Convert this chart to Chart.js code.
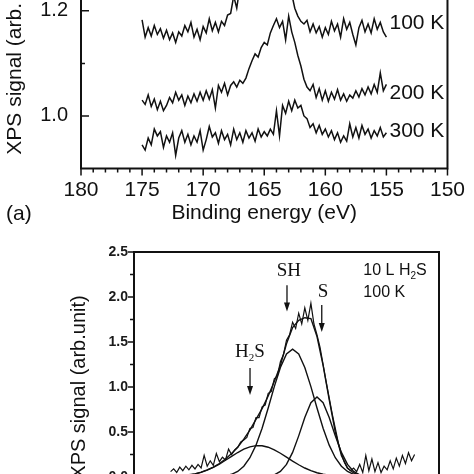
<!DOCTYPE html>
<html><head><meta charset="utf-8">
<script src="https://cdn.jsdelivr.net/npm/chart.js@4.4.1/dist/chart.umd.min.js"></script>
<style>
html,body{margin:0;padding:0;background:#fff;}
body{width:474px;height:474px;overflow:hidden;position:relative;}
#c1{position:absolute;left:0;top:-80px;}
#c2{position:absolute;left:0;top:240px;}
</style></head><body>
<canvas id="c1" width="474" height="320"></canvas>
<canvas id="c2" width="474" height="320"></canvas>
<script>
// ---------- Panel (a): temperature series ----------
const energy = [175,174.75,174.5,174.25,174,173.75,173.5,173.25,173,172.75,172.5,172.25,172,171.75,171.5,171.25,171,170.75,170.5,170.25,170,169.75,169.5,169.25,169,168.75,168.5,168.25,168,167.75,167.5,167.25,167,166.75,166.5,166.25,166,165.75,165.5,165.25,165,164.75,164.5,164.25,164,163.75,163.5,163.25,163,162.75,162.5,162.25,162,161.75,161.5,161.25,161,160.75,160.5,160.25,160,159.75,159.5,159.25,159,158.75,158.5,158.25,158,157.75,157.5,157.25,157,156.75,156.5,156.25,156,155.75,155.5,155.25,155];
const signal100K = [1.183,1.150,1.168,1.152,1.172,1.155,1.166,1.148,1.163,1.145,
1.158,1.140,1.160,1.152,1.172,1.160,1.178,1.150,1.165,1.145,
1.170,1.158,1.185,1.162,1.178,1.160,1.180,1.172,1.192,1.195,
1.228,1.205,1.245,1.255,1.270,1.280,1.290,1.300,1.310,1.305,
1.315,1.310,1.320,1.315,1.318,1.310,1.300,1.285,1.260,1.232,
1.205,1.190,1.180,1.175,1.182,1.160,1.175,1.158,1.170,1.150,
1.168,1.155,1.180,1.162,1.175,1.150,1.185,1.165,1.178,1.155,
1.135,1.168,1.182,1.160,1.175,1.158,1.185,1.165,1.178,1.160,
1.150];
const signal200K = [1.030,1.022,1.040,1.018,1.032,1.012,1.028,1.010,1.020,1.035,
1.025,1.045,1.030,1.040,1.020,1.038,1.025,1.042,1.028,1.045,
1.030,1.048,1.032,1.050,1.015,1.058,1.045,1.062,1.040,1.058,
1.065,1.055,1.068,1.062,1.072,1.090,1.105,1.118,1.112,1.130,
1.140,1.135,1.158,1.172,1.185,1.168,1.180,1.145,1.190,1.160,
1.140,1.115,1.095,1.070,1.055,1.048,1.060,1.035,1.052,1.030,
1.048,1.028,1.045,1.032,1.050,1.030,1.042,1.028,1.040,1.034,
1.048,1.036,1.052,1.040,1.055,1.042,1.060,1.045,1.082,1.048,
1.060];
const signal300K = [0.945,0.935,0.958,0.945,0.975,0.962,0.970,0.940,0.962,0.950,
0.968,0.925,0.958,0.972,0.950,0.965,0.945,0.962,0.950,0.972,
0.935,0.955,0.980,0.960,0.968,0.948,0.972,0.955,0.965,0.945,
0.975,0.955,0.968,0.950,0.972,0.958,0.968,0.952,0.975,0.960,
0.970,0.962,0.975,0.965,1.010,0.962,1.020,1.005,1.028,1.010,
1.030,1.015,1.020,1.000,0.995,0.978,0.985,0.968,0.982,0.965,
0.975,0.960,0.972,0.955,0.968,0.950,0.962,0.952,0.985,0.960,
0.978,0.958,0.982,0.965,0.975,0.958,0.972,0.962,0.978,0.960,
0.968];
const seriesLabels = ['100 K','200 K','300 K'];
const topXTicks = [180,175,170,165,160,155,150];
const topXMinor = [179,178,177,176,174,173,172,171,169,168,167,166,164,163,162,161,159,158,157,156,154,153,152,151];
const topYTicks = [1.0,1.2];
const topYMinor = [1.1,1.3];

// ---------- Panel (b): 10 L H2S, 100 K, fitted ----------
const rawSignal = [0.06,0.09,0.05,0.11,0.07,0.12,0.08,0.13,0.09,0.14,
0.10,0.24,0.12,0.18,0.13,0.26,0.17,0.22,0.19,0.31,
0.25,0.30,0.33,0.39,0.41,0.44,0.54,0.55,0.66,0.66,
0.78,0.80,0.93,0.95,1.09,1.12,1.28,1.36,1.52,1.58,
1.72,1.65,1.82,1.70,1.88,1.74,1.93,1.70,1.58,1.44,
1.25,1.06,0.88,0.70,0.54,0.38,0.26,0.16,0.10,0.07,
0.10,0.06,0.14,0.05,0.24,0.07,0.20,0.06,0.16,0.05,
0.12,0.08,0.18,0.09,0.21,0.12,0.24,0.15,0.27,0.18,
0.25];
const fitEnergy = [175,174.5,174,173.5,173,172.5,172,171.5,171,170.5,170,169.5,169,168.5,168,167.5,167,166.5,166,165.5,165,164.5,164,163.5,163,162.5,162,161.5,161,160.5,160,159.5,159,158.5,158,157.5,157,156.5,156,155.5,155];
const fitEnvelope = [0.01,0.01,0.015,0.025,0.035,0.055,0.08,0.11,0.15,0.20,0.26,0.33,0.42,0.52,0.64,0.76,0.90,1.06,1.24,1.48,1.66,1.74,1.77,1.76,1.56,1.24,0.86,0.50,0.24,0.10,0.045,0.02,0.01,0.005,0,0,0,0,0,0,0];
const compH2S = [0.004,0.007,0.012,0.021,0.033,0.051,0.076,0.107,0.144,0.186,0.230,0.272,0.309,0.335,0.349,0.347,0.331,0.302,0.264,0.221,0.177,0.136,0.100,0.070,0.047,0.031,0.019,0.011,0.006,0.003,0.002,0.001,0,0,0,0,0,0,0,0,0];
const compSH = [0,0,0,0,0,0,0,0.002,0.005,0.013,0.030,0.062,0.120,0.214,0.354,0.541,0.766,1.004,1.217,1.366,1.42,1.366,1.217,1.004,0.766,0.541,0.354,0.214,0.120,0.062,0.030,0.013,0.005,0.002,0,0,0,0,0,0,0];
const compS = [0,0,0,0,0,0,0,0,0,0,0,0,0,0,0,0.002,0.008,0.024,0.062,0.140,0.273,0.457,0.662,0.826,0.89,0.826,0.662,0.457,0.273,0.140,0.062,0.024,0.008,0.002,0,0,0,0,0,0,0];
const bottomYTicks = [-0.5,0.0,0.5,1.0,1.5,2.0,2.5];
const bottomYMinor = [-0.25,0.25,0.75,1.25,1.75,2.25];

// ---------- text placement (not data) ----------
const topLabelPos = {x:154.75, y:[1.177,1.043,0.971]};
const peakNotes = [
  {parts:[['SH',0]], x:165.3, y:2.29, align:'center'},
  {parts:[['S',0]], x:162.51, y:2.05, align:'center'},
  {parts:[['H',0],['2',1],['S',0]], x:169.72, y:1.39, align:'left'}
];
const peakArrows = [{x:165.46, from:2.13, to:1.84},{x:162.61, from:1.91, to:1.61},{x:168.49, from:1.21, to:0.91}];

const SANS = '"Liberation Sans", Arial, sans-serif';
const SERIF = '"Liberation Serif", "Times New Roman", serif';
const INK = '#111';
const pts = (xs, ys) => xs.map((x,i)=>({x:x, y:ys[i]}));

function drawRich(ctx, parts, x, y, size, family, align){
  let w = 0;
  parts.forEach(([t,sub])=>{ ctx.font = (sub? Math.round(size*0.6): size)+'px '+family; w += ctx.measureText(t).width; });
  let cx = align==='center' ? x - w/2 : x;
  ctx.textAlign = 'left'; ctx.textBaseline = 'middle';
  parts.forEach(([t,sub])=>{
    ctx.font = (sub? Math.round(size*0.6): size)+'px '+family;
    ctx.fillText(t, cx, sub ? y + size*0.32 : y);
    cx += ctx.measureText(t).width;
  });
}

const topDeco = {
  id:'topDeco',
  afterDraw(chart){
    const ctx = chart.ctx, a = chart.chartArea, x = chart.scales.x, y = chart.scales.y;
    ctx.save();
    ctx.strokeStyle = INK; ctx.lineWidth = 2;
    ctx.strokeRect(a.left, a.top, a.right-a.left, a.bottom-a.top);
    ctx.lineWidth = 1.5;
    ctx.beginPath();
    topXTicks.forEach(v=>{const p=x.getPixelForValue(v); ctx.moveTo(p,a.bottom); ctx.lineTo(p,a.bottom+7);});
    topXMinor.forEach(v=>{const p=x.getPixelForValue(v); ctx.moveTo(p,a.bottom); ctx.lineTo(p,a.bottom+4);});
    topYTicks.forEach(v=>{const p=y.getPixelForValue(v); ctx.moveTo(a.left,p); ctx.lineTo(a.left+8,p);});
    topYMinor.forEach(v=>{const p=y.getPixelForValue(v); ctx.moveTo(a.left,p); ctx.lineTo(a.left+4,p);});
    ctx.stroke();
    ctx.fillStyle = INK; ctx.font = '20px '+SANS; ctx.textBaseline='middle'; ctx.textAlign='right';
    topYTicks.forEach(v=> ctx.fillText(v.toFixed(1), a.left-13, y.getPixelForValue(v)));
    ctx.font = '21px '+SANS; ctx.textAlign='left';
    seriesLabels.forEach((t,i)=> ctx.fillText(t, x.getPixelForValue(topLabelPos.x), y.getPixelForValue(topLabelPos.y[i])));
    ctx.fillText('(a)', 6, 294);
    ctx.restore();
  }
};

const bottomDeco = {
  id:'bottomDeco',
  afterDraw(chart){
    const ctx = chart.ctx, a = chart.chartArea, x = chart.scales.x, y = chart.scales.y;
    ctx.save();
    ctx.strokeStyle = INK; ctx.lineWidth = 2;
    ctx.strokeRect(a.left, a.top, a.right-a.left, a.bottom-a.top);
    ctx.lineWidth = 1.5;
    ctx.beginPath();
    bottomYTicks.forEach(v=>{const p=y.getPixelForValue(v); ctx.moveTo(a.left,p); ctx.lineTo(a.left-6,p);});
    bottomYMinor.forEach(v=>{const p=y.getPixelForValue(v); ctx.moveTo(a.left,p); ctx.lineTo(a.left-4,p);});
    ctx.stroke();
    ctx.fillStyle = '#1a1a1a'; ctx.font = 'bold 14px '+SANS; ctx.textAlign='right'; ctx.textBaseline='middle';
    bottomYTicks.forEach(v=> ctx.fillText(v.toFixed(1), a.left-6, y.getPixelForValue(v)));
    ctx.fillStyle = INK;
    peakNotes.forEach(n=> drawRich(ctx, n.parts, x.getPixelForValue(n.x), y.getPixelForValue(n.y), 19, SERIF, n.align));
    ctx.lineWidth = 1.3;
    peakArrows.forEach(ar=>{
      const px = x.getPixelForValue(ar.x), p1 = y.getPixelForValue(ar.from), p2 = y.getPixelForValue(ar.to);
      ctx.beginPath(); ctx.moveTo(px,p1); ctx.lineTo(px,p2-6); ctx.stroke();
      ctx.beginPath(); ctx.moveTo(px-3,p2-9); ctx.lineTo(px+3,p2-9); ctx.lineTo(px,p2); ctx.closePath(); ctx.fill();
    });
    drawRich(ctx, [['10 L H',0],['2',1],['S',0]], x.getPixelForValue(159.2), y.getPixelForValue(2.29), 16, SANS, 'left');
    drawRich(ctx, [['100 K',0]], x.getPixelForValue(159.2), y.getPixelForValue(2.05), 16, SANS, 'left');
    ctx.restore();
  }
};

const lineDS = (data, w) => ({data:data, borderColor:INK, borderWidth:w, pointRadius:0, fill:false, tension:0});

new Chart(document.getElementById('c1'), {
  type:'line',
  data:{datasets:[lineDS(pts(energy,signal100K),1.5), lineDS(pts(energy,signal200K),1.5), lineDS(pts(energy,signal300K),1.5)]},
  options:{
    responsive:false, animation:false, devicePixelRatio:1,
    layout:{padding:{top:12, right:22, left:0, bottom:0}},
    plugins:{legend:{display:false}, tooltip:{enabled:false}},
    scales:{
      x:{type:'linear', reverse:true, min:150, max:180,
        afterBuildTicks: s=>{ s.ticks = topXTicks.map(v=>({value:v})); },
        afterFit: s=>{ s.height = 71.5; },
        grid:{display:false, drawTicks:false}, border:{display:false},
        ticks:{font:{family:SANS, size:21}, color:INK, padding:9, maxRotation:0, autoSkip:false, callback:v=>String(v)},
        title:{display:true, text:'Binding energy (eV)', font:{family:SANS, size:21}, color:INK, padding:{top:0, bottom:14}}
      },
      y:{min:0.9, max:1.35,
        afterFit: s=>{ s.width = 81; },
        grid:{display:false, drawTicks:false}, border:{display:false},
        ticks:{display:false},
        title:{display:true, text:'XPS signal (arb. units)', font:{family:SANS, size:21}, color:INK, padding:{top:3, bottom:0}}
      }
    }
  },
  plugins:[topDeco]
});

new Chart(document.getElementById('c2'), {
  type:'line',
  data:{datasets:[
    lineDS(pts(energy,rawSignal),1.2),
    lineDS(pts(fitEnergy,fitEnvelope),1.4),
    lineDS(pts(fitEnergy,compH2S),1.4),
    lineDS(pts(fitEnergy,compSH),1.4),
    lineDS(pts(fitEnergy,compS),1.4)
  ]},
  options:{
    responsive:false, animation:false, devicePixelRatio:1,
    layout:{padding:{top:12, right:35, left:0, bottom:0}},
    plugins:{legend:{display:false}, tooltip:{enabled:false}},
    scales:{
      x:{type:'linear', reverse:true, min:153, max:178,
        afterFit: s=>{ s.height = 38; },
        grid:{display:false, drawTicks:false}, border:{display:false},
        ticks:{display:false}
      },
      y:{min:-0.5, max:2.5,
        afterFit: s=>{ s.width = 134; },
        grid:{display:false, drawTicks:false}, border:{display:false},
        ticks:{display:false},
        title:{display:true, text:'XPS signal (arb.unit)', font:{family:SANS, size:20}, color:INK, padding:{top:67, bottom:0}}
      }
    }
  },
  plugins:[bottomDeco]
});
</script>
</body></html>
